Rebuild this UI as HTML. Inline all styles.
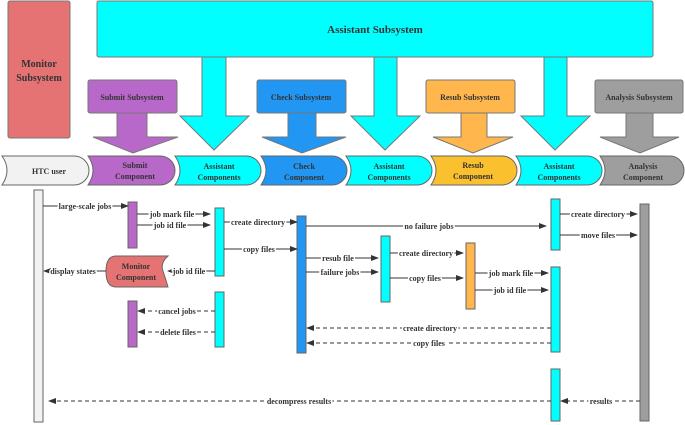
<!DOCTYPE html>
<html><head><meta charset="utf-8"><style>
html,body{margin:0;padding:0;background:#fff;}
svg{display:block;}
text{font-family:"Liberation Serif",serif;font-weight:bold;fill:#333;}
</style></head><body>
<svg width="685" height="425" viewBox="0 0 685 425" xmlns="http://www.w3.org/2000/svg">
<defs>
<marker id="a" markerWidth="8" markerHeight="6" refX="7" refY="3" orient="auto" markerUnits="userSpaceOnUse"><path d="M0,0 L8,3 L0,6 Z" fill="#333"/></marker>
</defs>
<!-- top subsystems -->
<rect x="8" y="1" width="62" height="137" rx="2" fill="#E57373" stroke="#777"/>
<text x="39" y="67" font-size="10" text-anchor="middle">Monitor</text>
<text x="39" y="81" font-size="10" text-anchor="middle">Subsystem</text>
<rect x="97" y="1" width="556" height="56" rx="2" fill="#00FFFF" stroke="#777"/>
<text x="375" y="33" font-size="11" text-anchor="middle">Assistant Subsystem</text>

<g stroke="#777" stroke-width="1">
<path d="M202,57 H226 V116 H249 L214,150 L180,116 H202 Z" fill="#00FFFF"/>
<path d="M374,57 H397 V116 H420 L385,150 L351,116 H374 Z" fill="#00FFFF"/>
<path d="M544,57 H567 V116 H590 L555,150 L521,116 H544 Z" fill="#00FFFF"/>

<rect x="88" y="80" width="89" height="33" rx="2" fill="#B868C8"/>
<path d="M117,113 H147 V137 H178 L133,153 L93,137 H117 Z" fill="#B868C8"/>
<rect x="257" y="80" width="89" height="33" rx="2" fill="#2196F3"/>
<path d="M288,113 H316 V137 H346 L302,153 L262,137 H288 Z" fill="#2196F3"/>
<rect x="426" y="80" width="89" height="33" rx="2" fill="#FFB74D"/>
<path d="M461,113 H487 V137 H513 L473,153 L433,137 H461 Z" fill="#FFB74D"/>
<rect x="595" y="80" width="88" height="33" rx="2" fill="#9E9E9E"/>
<path d="M626,113 H653 V137 H679 L640,153 L600,137 H626 Z" fill="#9E9E9E"/>
</g>
<text x="132" y="100" font-size="8" text-anchor="middle">Submit Subsystem</text>
<text x="301" y="100" font-size="8" text-anchor="middle">Check Subsystem</text>
<text x="470" y="100" font-size="8" text-anchor="middle">Resub Subsystem</text>
<text x="639" y="100" font-size="8" text-anchor="middle">Analysis Subsystem</text>

<!-- header row -->
<g stroke="#666" stroke-width="1">
<path d="M2,156 H74 A15,14.5 0 0 1 74,185 H2 Q12,170.5 2,156 Z" fill="#F2F2F2"/>
<path d="M88,156 H160 A15,14.5 0 0 1 160,185 H88 Q98,170.5 88,156 Z" fill="#B868C8"/>
<path d="M175,156 H246 A15,14.5 0 0 1 246,185 H175 Q185,170.5 175,156 Z" fill="#00FFFF"/>
<path d="M261,156 H332 A15,14.5 0 0 1 332,185 H261 Q271,170.5 261,156 Z" fill="#2196F3"/>
<path d="M346,156 H417 A15,14.5 0 0 1 417,185 H346 Q356,170.5 346,156 Z" fill="#00FFFF"/>
<path d="M431,156 H502 A15,14.5 0 0 1 502,185 H431 Q441,170.5 431,156 Z" fill="#FBC02D"/>
<path d="M516,156 H587 A15,14.5 0 0 1 587,185 H516 Q526,170.5 516,156 Z" fill="#00FFFF"/>
<path d="M600,156 H670 A14,14.5 0 0 1 670,185 H600 Q610,170.5 600,156 Z" fill="#9E9E9E"/>
</g>
<g font-size="8" text-anchor="middle">
<text x="49" y="174">HTC user</text>
<text x="135" y="168">Submit</text><text x="135" y="179">Component</text>
<text x="219" y="169">Assistant</text><text x="219" y="180">Components</text>
<text x="304" y="169">Check</text><text x="304" y="180">Component</text>
<text x="389" y="169">Assistant</text><text x="389" y="180">Components</text>
<text x="473" y="168">Resub</text><text x="473" y="179">Component</text>
<text x="559" y="169">Assistant</text><text x="559" y="180">Components</text>
<text x="643" y="169">Analysis</text><text x="643" y="180">Component</text>
</g>

<!-- activation bars -->
<g stroke="#666" stroke-width="1">
<rect x="34" y="190" width="9" height="232" fill="#F2F2F2"/>
<rect x="128" y="202" width="9" height="46" fill="#B868C8"/>
<rect x="128" y="301" width="9" height="46" fill="#B868C8"/>
<rect x="215" y="208" width="9" height="68" fill="#00FFFF"/>
<rect x="215" y="292" width="9" height="55" fill="#00FFFF"/>
<rect x="297" y="216" width="9" height="137" fill="#2196F3"/>
<rect x="381" y="236" width="9" height="66" fill="#00FFFF"/>
<rect x="466" y="243" width="9" height="66" fill="#FFB74D"/>
<rect x="551" y="199" width="9" height="51" fill="#00FFFF"/>
<rect x="551" y="267" width="9" height="85" fill="#00FFFF"/>
<rect x="551" y="369" width="9" height="52" fill="#00FFFF"/>
<rect x="640" y="204" width="9" height="217" fill="#9E9E9E"/>
<path d="M116,256 H168 Q160,263 163,271 Q166,280 168,287 H116 Q106,287 106,271.5 Q106,256 116,256 Z" fill="#E57373"/>
</g>
<text x="136" y="269" font-size="8" text-anchor="middle">Monitor</text>
<text x="136" y="280" font-size="8" text-anchor="middle">Component</text>

<!-- messages -->
<g stroke="#333" stroke-width="1" fill="none">
<line x1="43" y1="206" x2="128" y2="206" marker-end="url(#a)"/>
<line x1="137" y1="214" x2="210" y2="214" marker-end="url(#a)"/>
<line x1="137" y1="225" x2="210" y2="225" marker-end="url(#a)"/>
<line x1="224" y1="222" x2="297" y2="222" marker-end="url(#a)"/>
<line x1="224" y1="249" x2="297" y2="249" marker-end="url(#a)"/>
<line x1="306" y1="226" x2="546" y2="226" marker-end="url(#a)"/>
<line x1="306" y1="258" x2="378" y2="258" marker-end="url(#a)"/>
<line x1="306" y1="272" x2="378" y2="272" marker-end="url(#a)"/>
<line x1="390" y1="253" x2="463" y2="253" marker-end="url(#a)"/>
<line x1="390" y1="278" x2="463" y2="278" marker-end="url(#a)"/>
<line x1="475" y1="273" x2="548" y2="273" marker-end="url(#a)"/>
<line x1="475" y1="290" x2="548" y2="290" marker-end="url(#a)"/>
<line x1="560" y1="214" x2="637" y2="214" marker-end="url(#a)"/>
<line x1="560" y1="235" x2="637" y2="235" marker-end="url(#a)"/>
<line x1="215" y1="271" x2="168" y2="271" marker-end="url(#a)"/>
<line x1="106" y1="271" x2="44" y2="271" marker-end="url(#a)"/>
<g stroke-dasharray="4,3">
<line x1="215" y1="311" x2="138" y2="311" marker-end="url(#a)"/>
<line x1="215" y1="332" x2="138" y2="332" marker-end="url(#a)"/>
<line x1="551" y1="328" x2="307" y2="328" marker-end="url(#a)"/>
<line x1="551" y1="343" x2="307" y2="343" marker-end="url(#a)"/>
<line x1="640" y1="401" x2="561" y2="401" marker-end="url(#a)"/>
<line x1="551" y1="401" x2="49" y2="401" marker-end="url(#a)"/>
</g>
</g>
<g font-size="8" text-anchor="middle" stroke="#fff" stroke-width="3" paint-order="stroke">
<text x="85" y="209">large-scale jobs</text>
<text x="172" y="217">job mark file</text>
<text x="170" y="228">job id file</text>
<text x="258" y="225">create directory</text>
<text x="259" y="252">copy files</text>
<text x="429" y="229">no failure jobs</text>
<text x="338" y="261">resub file</text>
<text x="340" y="275">failure jobs</text>
<text x="426" y="256">create directory</text>
<text x="425" y="281">copy files</text>
<text x="511" y="276">job mark file</text>
<text x="510" y="293">job id file</text>
<text x="598" y="217">create directory</text>
<text x="598" y="238">move files</text>
<text x="189" y="274">job id file</text>
<text x="73" y="274">display states</text>
<text x="177" y="314">cancel jobs</text>
<text x="178" y="335">delete files</text>
<text x="430" y="331">create directory</text>
<text x="429" y="346">copy files</text>
<text x="601" y="404">results</text>
<text x="299" y="404">decompress results</text>
</g>
</svg>
</body></html>
